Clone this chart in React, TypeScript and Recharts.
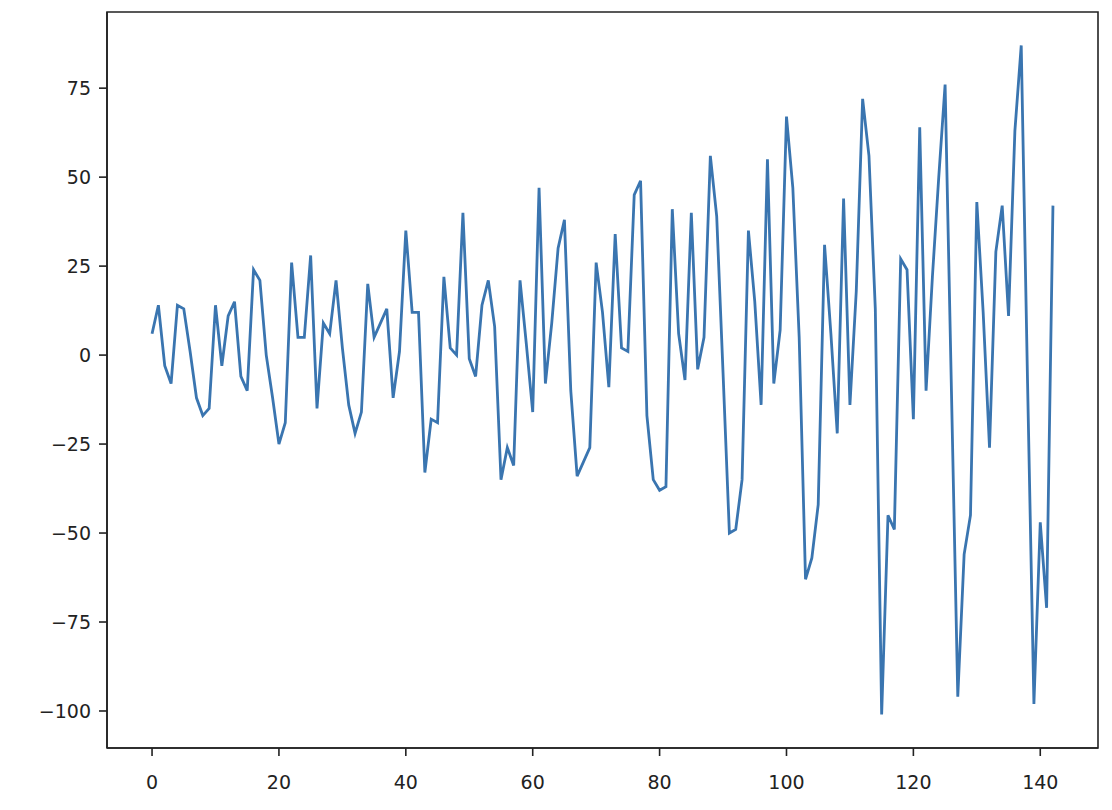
import { Line, LineChart, ReferenceArea, XAxis, YAxis } from "recharts"

// one value per step, steps 0..142
const values = [
    6, 14, -3, -8, 14, 13, 1, -12, -17, -15,
    14, -3, 11, 15, -6, -10, 24, 21, 0, -12,
    -25, -19, 26, 5, 5, 28, -15, 9, 6, 21,
    2, -14, -22, -16, 20, 5, 9, 13, -12, 1,
    35, 12, 12, -33, -18, -19, 22, 2, 0, 40,
    -1, -6, 14, 21, 8, -35, -26, -31, 21, 3,
    -16, 47, -8, 9, 30, 38, -10, -34, -30, -26,
    26, 12, -9, 34, 2, 1, 45, 49, -17, -35,
    -38, -37, 41, 6, -7, 40, -4, 5, 56, 39,
    -5, -50, -49, -35, 35, 15, -14, 55, -8, 7,
    67, 47, 5, -63, -57, -42, 31, 6, -22, 44,
    -14, 18, 72, 56, 13, -101, -45, -49, 27, 24,
    -18, 64, -10, 22, 50, 76, -10, -96, -56, -45,
    43, 12, -26, 29, 42, 11, 63, 87, -8, -98,
    -47, -71, 42,
]

const xTicks = [0, 20, 40, 60, 80, 100, 120, 140]
const yTicks = [-100, -75, -50, -25, 0, 25, 50, 75]

const xDomain: [number, number] = [-7.1, 149.1]
const yDomain: [number, number] = [-110.4, 96.4]

const data = values.map((v, i) => ({ step: i, value: v }))

const axisColor = "#222"
const tickStyle = { fill: "#222", fontSize: 19, fontFamily: "DejaVu Sans" }
const fmt = (v: number) => String(v).replace("-", "\u2212")

export default function App() {
    return (
        <div style={{ position: "absolute", left: 0, top: 0, background: "#fff" }}>
            <LineChart
                width={1112}
                height={810}
                data={data}
                margin={{ top: 12, right: 14, bottom: 0, left: 0 }}
            >
                <XAxis
                    dataKey="step"
                    type="number"
                    domain={xDomain}
                    ticks={xTicks}
                    allowDataOverflow
                    height={62}
                    stroke={axisColor}
                    strokeWidth={1.6}
                    tickSize={8}
                    tickMargin={20}
                    tick={tickStyle}
                />
                <YAxis
                    type="number"
                    domain={yDomain}
                    ticks={yTicks}
                    allowDataOverflow
                    width={107}
                    stroke={axisColor}
                    strokeWidth={1.6}
                    tickSize={8}
                    tickMargin={8}
                    tick={tickStyle}
                    tickFormatter={fmt}
                />
                {/* box around the plot, like the other spines */}
                <ReferenceArea
                    x1={xDomain[0]}
                    x2={xDomain[1]}
                    y1={yDomain[0]}
                    y2={yDomain[1]}
                    fill="none"
                    fillOpacity={0}
                    stroke={axisColor}
                    strokeWidth={1.6}
                    ifOverflow="visible"
                />
                <Line
                    type="linear"
                    dataKey="value"
                    stroke="#3a75b0"
                    strokeWidth={2.8}
                    dot={false}
                    isAnimationActive={false}
                />
            </LineChart>
        </div>
    )
}
